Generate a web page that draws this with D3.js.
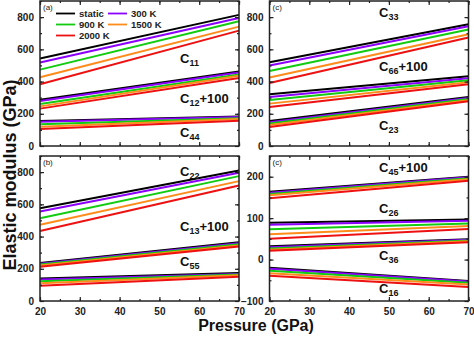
<!DOCTYPE html>
<html>
<head>
<meta charset="utf-8">
<script src="https://cdn.jsdelivr.net/npm/d3@7"></script>
<style>
  body { margin: 0; background: #fff; }
  text { font-family: "Liberation Sans", Arial, sans-serif; font-weight: bold; }
</style>
</head>
<body>
<div id="chart"></div>
<script>
// pressures of the end points (GPa)
const pressures = [20, 70];
const temps = ["static", "300 K", "900 K", "1500 K", "2000 K"];
const tempColors = ["#000000", "#8b00ff", "#11cc11", "#ff8c1a", "#ee1111"];

// values at 20 and 70 GPa, one pair per temperature (static, 300, 900, 1500, 2000 K)
const c11 = [[543, 814], [518, 795], [474, 774], [427, 741], [383, 716]];
const c12p100 = [[287, 462], [280, 456], [260, 444], [246, 436], [232, 422]];
const c44 = [[155, 183], [150, 180], [135, 173], [120, 168], [106, 156]];

const c22 = [[576, 810], [555, 796], [514, 775], [473, 744], [435, 717]];
const c13p100 = [[236, 365], [232, 359], [226, 352], [220, 345], [212, 338]];
const c55 = [[139, 174], [133, 168], [122, 164], [110, 160], [94, 150]];

const c33 = [[520, 756], [499, 743], [466, 723], [425, 694], [391, 673]];
const c66p100 = [[321, 433], [304, 420], [286, 408], [263, 396], [242, 383]];
const c23 = [[155, 304], [147, 298], [139, 292], [130, 284], [118, 278]];

const c45p100 = [[164, 200], [161, 199], [158, 196], [155, 194], [148, 190]];
const c26 = [[89, 97], [84, 94], [73, 87], [61, 81], [50, 74]];
const c36 = [[32, 49], [30, 48], [27, 46], [24, 44], [21, 42]];
const c16 = [[-20, -52], [-22, -53], [-27, -56], [-33, -60], [-39, -66]];

const xTicks = [20, 30, 40, 50, 60, 70];
const yTicksA = [0, 200, 400, 600, 800];
const yTicksD = [-100, 0, 100, 200];

const width = 474, height = 337;
const svg = d3.select("#chart").append("svg")
  .attr("width", width).attr("height", height);

// panel layout: left x, top y, bottom y
const panels = [
  {tag: "(a)", x0: 40, x1: 239, y0: 1, y1: 146, yDom: [0, 900], yTicks: yTicksA,
   sets: [c11, c12p100, c44], xLabels: false,
   labels: [["C", "11", "", 63], ["C", "12", "+100", 103], ["C", "44", "", 137]], lx: 180},
  {tag: "(b)", x0: 40, x1: 239, y0: 156, y1: 301, yDom: [0, 900], yTicks: yTicksA,
   sets: [c22, c13p100, c55], xLabels: true,
   labels: [["C", "22", "", 176], ["C", "13", "+100", 231], ["C", "55", "", 266]], lx: 180},
  {tag: "(c)", x0: 269.5, x1: 468.5, y0: 1, y1: 146, yDom: [0, 900], yTicks: yTicksA,
   sets: [c33, c66p100, c23], xLabels: false,
   labels: [["C", "33", "", 17], ["C", "66", "+100", 71], ["C", "23", "", 130]], lx: 379},
  {tag: "(c)", x0: 269.5, x1: 468.5, y0: 156, y1: 301, yDom: [-100, 250], yTicks: yTicksD,
   sets: [c45p100, c26, c36, c16], xLabels: true,
   labels: [["C", "45", "+100", 172], ["C", "26", "", 213], ["C", "36", "", 260], ["C", "16", "", 293]], lx: 379}
];

panels.forEach(function(p) {
  const x = d3.scaleLinear().domain([20, 70]).range([p.x0, p.x1]);
  const y = d3.scaleLinear().domain(p.yDom).range([p.y1, p.y0]);
  const g = svg.append("g");

  // lines
  const line = d3.line()
    .x(function(d) { return x(d[0]); })
    .y(function(d) { return y(d[1]); });
  p.sets.forEach(function(set) {
    set.forEach(function(vals, i) {
      const pts = pressures.map(function(pr, k) { return [pr, vals[k]]; });
      g.append("path")
        .attr("d", line(pts))
        .attr("fill", "none")
        .attr("stroke", tempColors[i])
        .attr("stroke-width", 2);
    });
  });

  // axes, ticks pointing inward, mirrored on top and right
  const minorX = d3.range(20, 70.1, 5);
  const yStep = p.yTicks[1] - p.yTicks[0];
  const minorY = d3.range(p.yDom[0], p.yDom[1] + 0.1, yStep / 2);

  g.append("g").attr("transform", "translate(0," + p.y1 + ")")
    .call(d3.axisBottom(x).tickValues(minorX).tickSize(-2).tickFormat(""));
  g.append("g").attr("transform", "translate(0," + p.y1 + ")")
    .call(d3.axisBottom(x).tickValues(xTicks).tickSize(-4).tickPadding(7)
      .tickFormat(p.xLabels ? d3.format("d") : ""));
  g.append("g").attr("transform", "translate(0," + p.y0 + ")")
    .call(d3.axisTop(x).tickValues(minorX).tickSize(-2).tickFormat(""));
  g.append("g").attr("transform", "translate(0," + p.y0 + ")")
    .call(d3.axisTop(x).tickValues(xTicks).tickSize(-4).tickFormat(""));
  g.append("g").attr("transform", "translate(" + p.x0 + ",0)")
    .call(d3.axisLeft(y).tickValues(minorY).tickSize(-2).tickFormat(""));
  g.append("g").attr("transform", "translate(" + p.x0 + ",0)")
    .call(d3.axisLeft(y).tickValues(p.yTicks).tickSize(-4).tickPadding(6));
  g.append("g").attr("transform", "translate(" + p.x1 + ",0)")
    .call(d3.axisRight(y).tickValues(minorY).tickSize(-2).tickFormat(""));
  g.append("g").attr("transform", "translate(" + p.x1 + ",0)")
    .call(d3.axisRight(y).tickValues(p.yTicks).tickSize(-4).tickFormat(""));

  g.selectAll(".domain").remove();
  g.selectAll(".tick line").attr("stroke", "#222").attr("stroke-width", 1.2);
  g.selectAll(".tick text").attr("fill", "#222").style("font-size", "10px")
    .style("font-weight", "bold");

  g.append("rect")
    .attr("x", p.x0).attr("y", p.y0)
    .attr("width", p.x1 - p.x0).attr("height", p.y1 - p.y0)
    .attr("fill", "none").attr("stroke", "#222").attr("stroke-width", 1.5);

  g.append("text").attr("x", p.x0 + 3).attr("y", p.y0 + 9)
    .style("font-size", "8px").style("font-weight", "normal").attr("fill", "#222")
    .text(p.tag);

  // component labels
  p.labels.forEach(function(l) {
    const t = g.append("text").attr("x", p.lx).attr("y", l[3])
      .style("font-size", "13px").attr("fill", "#111");
    t.append("tspan").text(l[0]);
    t.append("tspan").attr("dy", 3).style("font-size", "9px").text(l[1]);
    if (l[2]) t.append("tspan").attr("dy", -3).text(l[2]);
  });
});

// legend in panel (a)
const legendPos = [[56, 13.5], [108, 13.5], [56, 24.5], [108, 24.5], [56, 35.5]];
temps.forEach(function(t, i) {
  const lp = legendPos[i];
  svg.append("line")
    .attr("x1", lp[0]).attr("x2", lp[0] + 19)
    .attr("y1", lp[1]).attr("y2", lp[1])
    .attr("stroke", tempColors[i]).attr("stroke-width", 1.8);
  svg.append("text")
    .attr("x", lp[0] + 23).attr("y", lp[1] + 3.5)
    .style("font-size", "9.5px").attr("fill", "#222")
    .text(t);
});

// axis titles
svg.append("text")
  .attr("x", 256).attr("y", 331)
  .attr("text-anchor", "middle")
  .style("font-size", "16px").attr("fill", "#111")
  .text("Pressure (GPa)");

svg.append("text")
  .attr("transform", "translate(16,175) rotate(-90)")
  .attr("text-anchor", "middle")
  .style("font-size", "18px").attr("fill", "#111")
  .text("Elastic modulus (GPa)");
</script>
</body>
</html>
